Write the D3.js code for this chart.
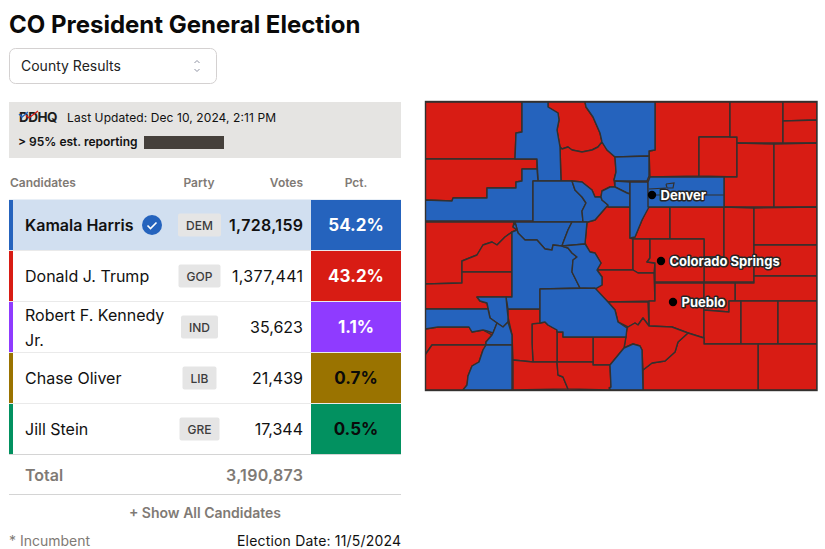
<!DOCTYPE html>
<html><head><meta charset="utf-8">
<script src="https://cdn.jsdelivr.net/npm/d3@7"></script>
<style>html,body{margin:0;padding:0;background:#fff}svg{display:block}text{font-family:Inter,sans-serif}</style>
</head><body><div id="c"></div>
<script>
const candidates=["Kamala Harris","Donald J. Trump","Robert F. Kennedy Jr.","Chase Oliver","Jill Stein"];
const parties=["DEM","GOP","IND","LIB","GRE"];
const votes=[1728159,1377441,35623,21439,17344];
const pcts=[54.2,43.2,1.1,0.7,0.5];
const totalVotes=3190873;
const partyColors={DEM:"#2563bd",GOP:"#d81c14",IND:"#8f3bff",LIB:"#9a7300",GRE:"#029160"};
const cities=[["Denver",227,95],["Colorado Springs",236,161],["Pueblo",248,202]];
const countyD=[
[[97,2],[123,2],[123,7],[133,13],[134,20],[132,30],[135,47],[136,81],[113,81],[112,59],[90,59],[91,33],[97,32]],
[[160,2],[230,2],[230,50],[224,51],[224,56],[190,57],[182,50],[177,42],[175,33],[168,17],[161,7]],
[[190,57],[224,56],[224,76],[222,81],[190,81],[189,80],[191,72]],
[[0,100],[27,101],[28,98],[62,98],[62,88],[91,88],[91,82],[97,81],[97,69],[112,69],[113,81],[108,81],[108,121],[0,121]],
[[108,81],[147,81],[150,90],[157,97],[161,103],[157,111],[158,122],[108,122]],
[[147,81],[157,82],[167,90],[170,97],[176,97],[177,100],[183,105],[170,120],[163,122],[158,122],[157,111],[161,103],[157,97],[150,90]],
[[190,81],[205,82],[205,94],[202,93],[190,87]],
[[177,91],[185,87],[190,87],[202,93],[205,94],[205,107],[183,107],[183,105],[177,100],[176,97]],
[[205,82],[223,82],[224,107],[217,120],[210,137],[205,138]],
[[225,77],[299,77],[299,107],[223,107],[223,82]],
[[90,122],[147,122],[143,130],[138,143],[137,146],[128,145],[127,150],[120,149],[112,140],[100,140],[93,133]],
[[147,122],[162,122],[160,144],[137,146],[138,143],[143,130]],
[[90,122],[93,133],[100,140],[112,140],[120,149],[127,150],[128,145],[137,146],[143,148],[147,153],[152,157],[148,160],[147,172],[150,178],[155,188],[115,189],[115,209],[83,209],[81,197],[87,197],[87,132],[92,130],[88,127]],
[[137,146],[160,144],[165,152],[170,153],[176,163],[172,170],[177,177],[177,185],[170,189],[155,188],[150,178],[147,172],[148,160],[152,157],[147,153],[143,148]],
[[115,189],[170,188],[183,202],[190,210],[193,222],[202,228],[201,237],[138,237],[138,232],[132,232],[132,230],[123,225],[120,222],[115,223]],
[[52,197],[81,197],[82,208],[83,217],[83,222],[78,227],[72,223],[65,218],[63,208],[62,203],[55,201]],
[[0,209],[63,209],[65,218],[72,223],[68,233],[62,231],[58,230],[47,232],[44,227],[13,227],[0,229]],
[[78,227],[83,222],[87,235],[87,245],[61,245],[61,242],[67,235],[68,233],[72,223]],
[[61,245],[87,245],[87,290],[38,290],[42,285],[43,276],[47,266],[54,262],[58,250]],
[[199,248],[208,244],[215,246],[217,250],[218,290],[186,290],[184,288],[186,287],[185,265]]
];
const countyR=[
[[0,2],[97,2],[97,32],[91,33],[90,59],[0,59]],
[[0,59],[112,59],[112,69],[97,69],[97,81],[91,82],[91,88],[62,88],[62,98],[28,98],[27,101],[0,100]],
[[123,2],[160,2],[161,7],[168,17],[175,33],[177,42],[173,47],[167,50],[157,52],[147,50],[143,47],[137,49],[135,47],[132,30],[134,20],[133,13],[123,7]],
[[135,47],[137,49],[143,47],[147,50],[157,52],[167,50],[173,47],[177,42],[182,50],[190,57],[191,72],[189,80],[190,87],[185,87],[177,91],[176,97],[170,97],[167,90],[157,82],[147,81],[136,81]],
[[230,2],[305,2],[305,37],[274,37],[274,76],[225,77],[224,51],[230,50]],
[[274,37],[312,37],[312,77],[274,76]],
[[305,2],[358,2],[358,43],[312,43],[312,37],[305,37]],
[[358,2],[392,2],[392,20],[358,21]],
[[358,21],[392,20],[392,43],[358,43]],
[[312,43],[349,44],[349,107],[299,107],[299,77],[312,77]],
[[349,44],[392,43],[392,107],[349,107]],
[[223,107],[245,107],[245,139],[208,139],[205,138],[210,137],[217,120]],
[[245,107],[299,107],[299,157],[279,157],[279,139],[245,139]],
[[299,107],[329,108],[329,182],[279,182],[279,157],[299,157]],
[[329,108],[392,107],[392,145],[329,145]],
[[329,145],[392,145],[392,176],[329,176]],
[[329,176],[392,176],[392,201],[310,201],[310,183],[329,183]],
[[170,120],[183,105],[183,107],[205,107],[205,138],[208,139],[208,170],[172,170],[176,163],[170,153],[165,152],[160,143],[162,122]],
[[208,139],[225,139],[225,158],[222,162],[230,163],[229,173],[213,173],[208,170]],
[[225,139],[279,139],[279,182],[230,182],[230,163],[222,162],[225,158]],
[[172,170],[208,170],[213,173],[229,173],[230,201],[183,202],[170,189],[177,185],[177,177]],
[[230,183],[279,183],[279,238],[263,233],[247,227],[224,226],[224,201],[230,201]],
[[279,183],[310,183],[310,201],[304,201],[304,212],[279,210]],
[[279,210],[304,212],[304,201],[316,201],[316,244],[279,244]],
[[316,201],[353,201],[353,244],[316,244]],
[[353,201],[392,201],[392,244],[353,244]],
[[333,244],[392,244],[392,290],[333,290]],
[[218,270],[227,263],[240,261],[250,252],[253,242],[263,233],[279,238],[279,244],[333,244],[333,290],[218,290]],
[[183,202],[223,202],[224,226],[218,218],[213,225],[210,223],[203,227],[193,222],[190,210]],
[[224,226],[247,227],[263,233],[253,242],[250,252],[240,261],[227,263],[218,270],[217,250],[215,246],[208,244],[199,248],[202,228],[203,227],[210,223],[213,225],[218,218]],
[[168,237],[201,237],[199,248],[185,265],[168,265]],
[[132,232],[138,232],[138,237],[168,237],[168,262],[132,262]],
[[107,223],[115,223],[120,222],[123,225],[132,230],[132,262],[108,262],[107,243]],
[[83,209],[115,209],[115,223],[107,224],[107,243],[108,262],[88,260],[87,235],[83,217]],
[[88,260],[108,262],[132,262],[133,275],[138,277],[143,289],[88,290]],
[[132,262],[168,262],[168,265],[185,265],[186,287],[184,290],[143,289],[138,277],[133,275]],
[[0,122],[89,122],[88,127],[92,130],[87,132],[80,137],[72,145],[67,142],[58,145],[52,155],[37,161],[37,183],[0,184]],
[[37,161],[52,155],[58,145],[67,142],[72,145],[80,137],[87,132],[87,172],[37,172]],
[[0,184],[37,183],[37,172],[87,172],[87,197],[52,197],[55,201],[62,203],[63,209],[0,209]],
[[0,229],[13,227],[44,227],[47,232],[58,230],[67,235],[61,242],[61,245],[7,245],[0,255]],
[[0,255],[7,245],[61,245],[58,250],[54,262],[47,266],[43,276],[42,285],[38,290],[0,290]]
];
const innerLines=[[[225,95],[299,95]],[[241,84],[249,83],[248,88],[242,88],[241,84]],[[224,89],[241,88]]];

const W=825,H=549;
const svg=d3.select("#c").append("svg").attr("width",W).attr("height",H);
const gray="#7f7a75";
const fmt=d3.format(",");

// header
svg.append("text").attr("x",9).attr("y",32.5).attr("font-size",24).attr("font-weight",700).attr("fill","#0a0a0a").text("CO President General Election");
svg.append("rect").attr("x",9.5).attr("y",48.5).attr("width",207).attr("height",35).attr("rx",6).attr("fill","#fff").attr("stroke","#d4d1d1");
svg.append("text").attr("x",21).attr("y",71).attr("font-size",14).attr("fill","#222").text("County Results");
svg.append("path").attr("d","M194.5 63l2.5-2.5 2.5 2.5M194.5 69l2.5 2.5 2.5-2.5").attr("fill","none").attr("stroke","#8f93a3").attr("stroke-width",1);

// status box
svg.append("rect").attr("x",9).attr("y",102).attr("width",392).attr("height",56).attr("fill","#e5e4e2");
svg.append("text").attr("x",19).attr("y",122).attr("font-size",13.5).attr("font-weight",700).attr("letter-spacing",-0.5).attr("fill","#1c1c1c").text("DDHQ");
svg.append("path").attr("d","M19 114l3 3 6-5").attr("fill","none").attr("stroke","#2563bd").attr("stroke-width",1.3);
svg.append("path").attr("d","M26 115l3 3 9-7").attr("fill","none").attr("stroke","#d81c14").attr("stroke-width",1.3);
svg.append("text").attr("x",67).attr("y",122).attr("font-size",12).attr("fill","#111").attr("textLength",209).text("Last Updated: Dec 10, 2024, 2:11 PM");
svg.append("text").attr("x",18).attr("y",146).attr("font-size",12).attr("font-weight",600).attr("fill","#111").text("> 95% est. reporting");
svg.append("rect").attr("x",144).attr("y",136).attr("width",80).attr("height",13).attr("fill","#45403b");

// table head
const headY=187;
[["Candidates",10,"start"],["Party",199,"middle"],["Votes",303,"end"],["Pct.",356,"middle"]].forEach(d=>{
  svg.append("text").attr("x",d[1]).attr("y",headY).attr("text-anchor",d[2]).attr("font-size",12).attr("font-weight",600).attr("fill",gray).text(d[0]);
});

const rowY=d3.scaleBand().domain(d3.range(candidates.length)).range([199.5,454.5]);
const badgeW=[43,42,37,34,40];
const voteTextW=[74,71,null,null,null];
const row=svg.selectAll("g.row").data(candidates).join("g").attr("class","row").attr("transform",(d,i)=>`translate(0,${rowY(i)})`);
const rh=rowY.bandwidth();
row.append("rect").attr("x",9).attr("y",0).attr("width",392).attr("height",rh).attr("fill",(d,i)=>i===0?"#d1dff0":"#fff");
row.append("rect").attr("x",9).attr("y",0.5).attr("width",4).attr("height",rh-1).attr("fill",(d,i)=>partyColors[parties[i]]);
row.append("rect").attr("x",311).attr("y",0.5).attr("width",90).attr("height",rh-1).attr("fill",(d,i)=>partyColors[parties[i]]);
row.append("line").attr("x1",9).attr("x2",401).attr("y1",rh).attr("y2",rh).attr("stroke","#d4d4d4").attr("stroke-width",1);
row.each(function(d,i){
  const g=d3.select(this);
  const t=g.append("text").attr("x",25).attr("font-size",16).attr("font-weight",i===0?600:400).attr("fill","#111");
  if(d.length>16){
    const parts=[d.slice(0,d.lastIndexOf(" ")),d.slice(d.lastIndexOf(" ")+1)];
    t.append("tspan").attr("x",25).attr("y",19.5).text(parts[0]);
    t.append("tspan").attr("x",25).attr("y",44).text(parts[1]);
  } else t.attr("y",31).text(d);
});
row.append("rect").attr("x",(d,i)=>199.5-badgeW[i]/2).attr("y",14).attr("width",(d,i)=>badgeW[i]).attr("height",23).attr("rx",2).attr("fill","#e5e5e5");
row.append("text").attr("x",199.5).attr("y",30.5).attr("text-anchor","middle").attr("font-size",12).attr("font-weight",500).attr("fill","#3c3c3c").text((d,i)=>parties[i]);
row.append("text").attr("x",303).attr("y",31).attr("text-anchor","end").attr("font-size",16).attr("font-weight",(d,i)=>i===0?600:400).attr("fill","#111")
  .attr("textLength",(d,i)=>voteTextW[i]).text((d,i)=>fmt(votes[i]));
row.append("text").attr("x",356).attr("y",31.5).attr("text-anchor","middle").attr("font-size",17).attr("font-weight",700).attr("fill",(d,i)=>i<3?"#fff":"#0a0a0a").text((d,i)=>pcts[i].toFixed(1)+"%");

// winner check
const chk=svg.append("g").attr("transform",`translate(152,${rowY(0)+25.5})`);
chk.append("circle").attr("r",10).attr("fill","#2563bd");
chk.append("path").attr("d","M-4.5 0.5l3 3 6-6").attr("fill","none").attr("stroke","#fff").attr("stroke-width",1.6);

// footer
svg.append("text").attr("x",25).attr("y",481).attr("font-size",16).attr("font-weight",600).attr("fill",gray).text("Total");
svg.append("text").attr("x",303).attr("y",481).attr("text-anchor","end").attr("font-size",16).attr("font-weight",600).attr("fill",gray).attr("textLength",77).text(fmt(totalVotes));
svg.append("line").attr("x1",9).attr("x2",401).attr("y1",494.5).attr("y2",494.5).attr("stroke","#d4d4d4");
svg.append("text").attr("x",205).attr("y",518).attr("text-anchor","middle").attr("font-size",14).attr("font-weight",600).attr("fill",gray).text("+ Show All Candidates");
svg.append("text").attr("x",9).attr("y",546).attr("font-size",14).attr("fill",gray).text("* Incumbent");
svg.append("text").attr("x",401).attr("y",546).attr("text-anchor","end").attr("font-size",14).attr("fill","#111").attr("textLength",164).text("Election Date: 11/5/2024");

// map
const proj=d3.geoIdentity().translate([425,100]);
const path=d3.geoPath(proj);
const closed=r=>r.concat([r[0]]);
const features=[...countyR.map(r=>({type:"Feature",properties:{w:"GOP"},geometry:{type:"Polygon",coordinates:[closed(r)]}})),
                ...countyD.map(r=>({type:"Feature",properties:{w:"DEM"},geometry:{type:"Polygon",coordinates:[closed(r)]}}))];
const defs=svg.append("defs");
defs.append("clipPath").attr("id","mc").append("rect").attr("x",425).attr("y",102).attr("width",392).attr("height",288);
const map=svg.append("g").attr("clip-path","url(#mc)");
map.append("rect").attr("x",425).attr("y",102).attr("width",392).attr("height",288).attr("fill",partyColors.GOP);
map.selectAll("path.c").data(features).join("path").attr("class","c").attr("d",path)
  .attr("fill",d=>partyColors[d.properties.w]).attr("stroke","#33302e").attr("stroke-width",1.4).attr("stroke-linejoin","round");
map.selectAll("path.l").data(innerLines).join("path").attr("class","l")
  .attr("d",d=>path({type:"LineString",coordinates:d})).attr("fill","none").attr("stroke","#33302e").attr("stroke-width",1.2);
svg.append("rect").attr("x",425.5).attr("y",101.5).attr("width",391.5).attr("height",289).attr("fill","none").attr("stroke","#33302e").attr("stroke-width",1.4);

const city=svg.selectAll("g.city").data(cities).join("g").attr("class","city").attr("transform",d=>{const p=proj([d[1],d[2]]);return `translate(${p[0]},${p[1]})`});
city.append("circle").attr("r",4.2).attr("fill","#000");
city.append("text").attr("x",8.5).attr("y",4.5).attr("font-size",13).attr("font-weight",700).attr("fill","#fff")
  .attr("stroke","#262626").attr("stroke-width",3).attr("stroke-linejoin","round").attr("paint-order","stroke").text(d=>d[0]);
</script></body></html>
